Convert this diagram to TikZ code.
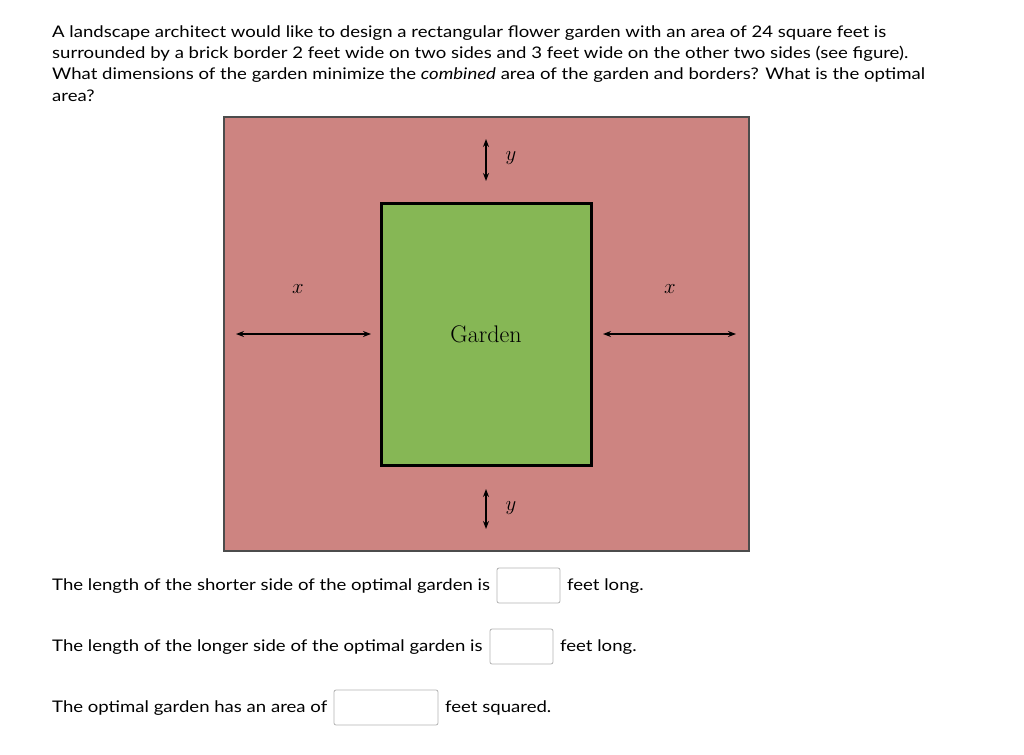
\documentclass[tikz,border=0pt]{standalone}
\usepackage{fontspec}
\setmainfont{Lato}[FakeStretch=1.16]
\newfontfamily\lmserif{Latin Modern Roman}
\usetikzlibrary{arrows.meta}
\definecolor{brick}{HTML}{CD8481}
\definecolor{grass}{HTML}{86B755}
\tikzset{
  qtext/.style={anchor=west,inner sep=0pt,font=\fontsize{16}{19}\selectfont},
  ansbox/.style={draw=gray!60,rounded corners=2pt,line width=0.8pt},
  dimarrow/.style={{Stealth[length=8pt,width=6pt]}-{Stealth[length=8pt,width=6pt]},line width=1.4pt},
  mathlbl/.style={inner sep=0pt,font=\fontsize{20}{24}\selectfont}
}
\begin{document}
\begin{tikzpicture}[x=1pt,y=-1pt]
\useasboundingbox (0,0) rectangle (1024,754);
\node[qtext] (l1) at (52,33) {A landscape architect would like to design a rectangular flower garden with an area of 24 square feet is};
\node[qtext] (l2) at (52,54) {surrounded by a brick border 2 feet wide on two sides and 3 feet wide on the other two sides (see figure).};
\node[qtext] (l3) at (52,75) {What dimensions of the garden minimize the \emph{combined} area of the garden and borders? What is the optimal};
\node[qtext] (l4) at (52,96) {area?};
\draw[fill=brick,draw=black!70,line width=1.2pt] (224,117) rectangle (749,551);
\draw[fill=grass,draw=black,line width=3pt] (381,203) rectangle (591,465);
\node[font=\lmserif\fontsize{24}{28}\selectfont] (g) at (486,334) {Garden};
\coordinate (la) at (236,334); \coordinate (lb) at (371,334);
\coordinate (ra) at (603,334); \coordinate (rb) at (736,334);
\coordinate (ta) at (486,139); \coordinate (tb) at (486,181);
\coordinate (ba) at (486,489); \coordinate (bb) at (486,529);
\draw[dimarrow] (la) -- (lb);
\draw[dimarrow] (ra) -- (rb);
\draw[dimarrow] (ta) -- (tb);
\draw[dimarrow] (ba) -- (bb);
\node[mathlbl] (x1) at (298,289) {$x$};
\node[mathlbl] (x2) at (670,289) {$x$};
\node[mathlbl] (y1) at (511,158) {$y$};
\node[mathlbl] (y2) at (511,508) {$y$};
\node[qtext] (a1) at (52,586) {The length of the shorter side of the optimal garden is};
\draw[ansbox] (497,568) rectangle (560,603);
\node[qtext] (a1b) at (567,586) {feet long.};
\node[qtext] (a2) at (52,647) {The length of the longer side of the optimal garden is};
\draw[ansbox] (490,629) rectangle (553,664);
\node[qtext] (a2b) at (560,647) {feet long.};
\node[qtext] (a3) at (52,708) {The optimal garden has an area of};
\draw[ansbox] (334,690) rectangle (438,725);
\node[qtext] (a3b) at (445,708) {feet squared.};
\end{tikzpicture}
\end{document}
